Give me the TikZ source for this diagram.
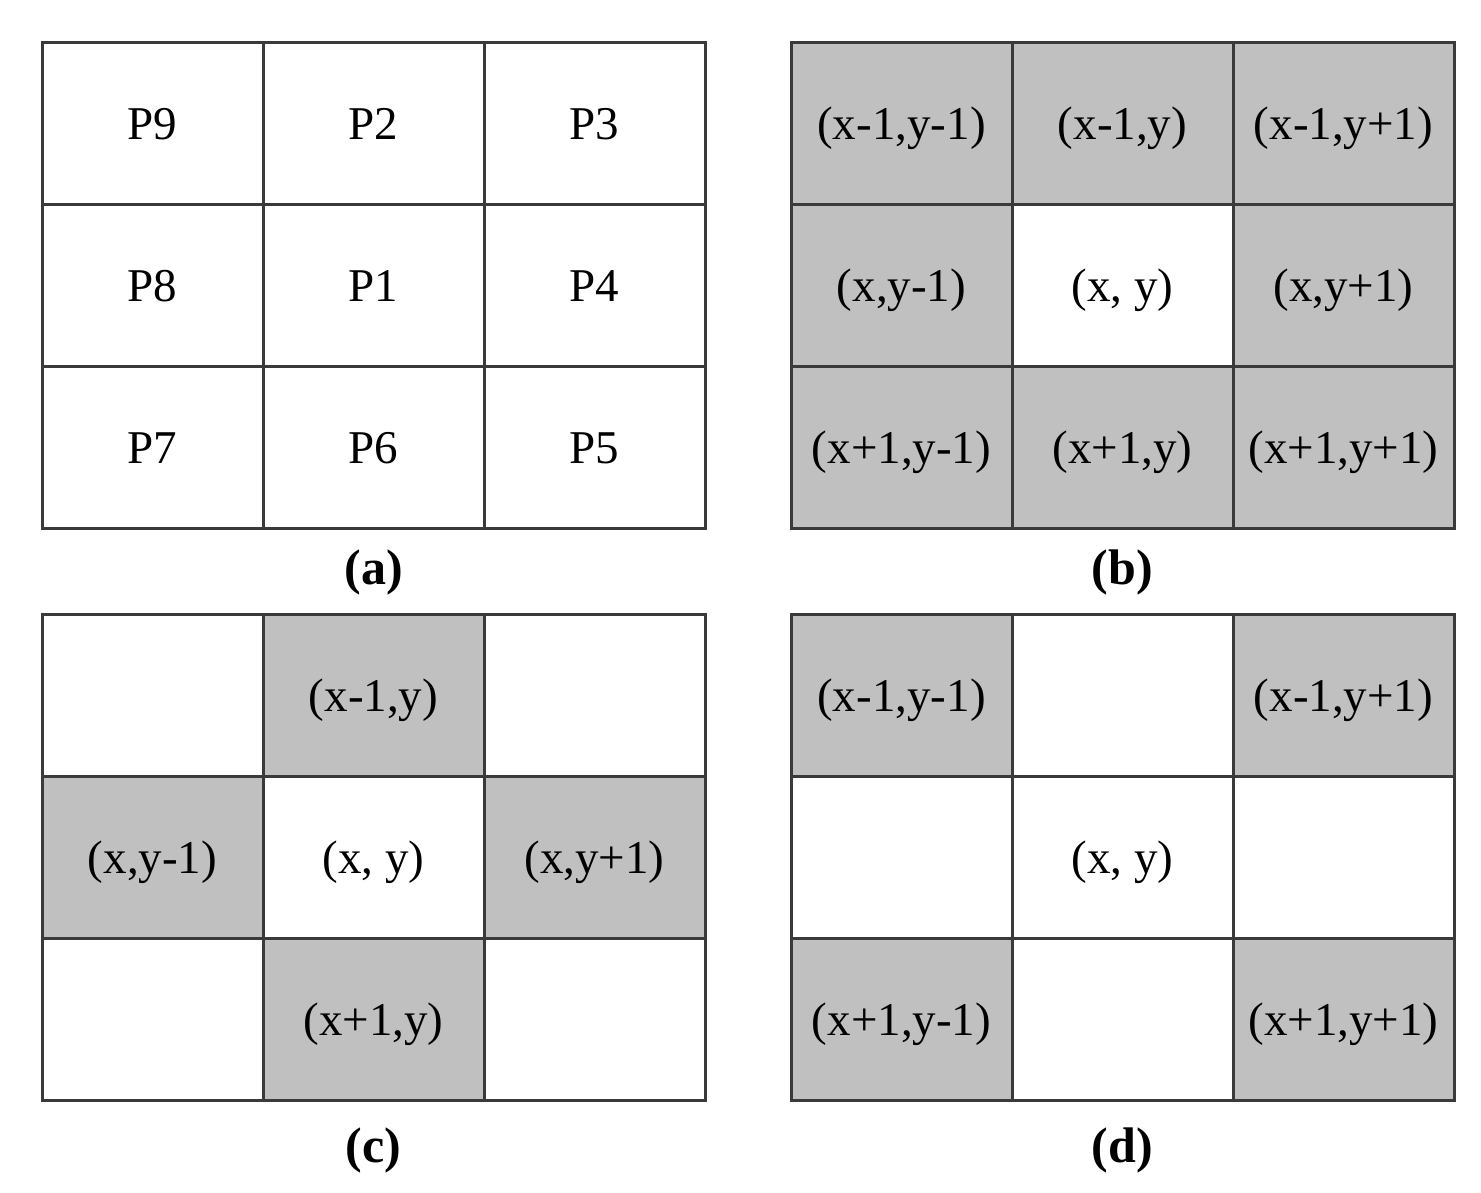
\documentclass[tikz,border=0pt]{standalone}
\usepackage{fontspec}
\setmainfont{Liberation Serif}
\definecolor{cellgray}{HTML}{C0C0C0}
\definecolor{gridline}{HTML}{3A3A3A}
\tikzset{
  cell/.style={draw=gridline, line width=3pt, inner sep=0pt,
    minimum width=221pt, minimum height=162pt,
    text height=36pt, text depth=4pt,
    font=\fontsize{47}{56}\selectfont},
  gray/.style={cell, fill=cellgray},
  blank/.style={cell, fill=white},
  caption/.style={font=\fontsize{50}{60}\selectfont\bfseries}
}
\begin{document}
\begin{tikzpicture}[x=1pt,y=-1pt]
\useasboundingbox (0,0) rectangle (1481,1192);
% (a)
\node[blank] (a11) at (152.5,123) {P9};
\node[blank] (a12) at (373.5,123) {P2};
\node[blank] (a13) at (594.5,123) {P3};
\node[blank] (a21) at (152.5,285) {P8};
\node[blank] (a22) at (373.5,285) {P1};
\node[blank] (a23) at (594.5,285) {P4};
\node[blank] (a31) at (152.5,447) {P7};
\node[blank] (a32) at (373.5,447) {P6};
\node[blank] (a33) at (594.5,447) {P5};
\node[caption] (capa) at (373.5,572) {(a)};
% (b)
\node[gray]  (b11) at (901.5,123) {(x-1,y-1)};
\node[gray]  (b12) at (1122.5,123) {(x-1,y)};
\node[gray]  (b13) at (1343.5,123) {(x-1,y+1)};
\node[gray]  (b21) at (901.5,285) {(x,y-1)};
\node[blank] (b22) at (1122.5,285) {(x, y)};
\node[gray]  (b23) at (1343.5,285) {(x,y+1)};
\node[gray]  (b31) at (901.5,447) {(x+1,y-1)};
\node[gray]  (b32) at (1122.5,447) {(x+1,y)};
\node[gray]  (b33) at (1343.5,447) {(x+1,y+1)};
\node[caption] (capb) at (1122.5,572) {(b)};
% (c)
\node[blank] (c11) at (152.5,695) {};
\node[gray]  (c12) at (373.5,695) {(x-1,y)};
\node[blank] (c13) at (594.5,695) {};
\node[gray]  (c21) at (152.5,857) {(x,y-1)};
\node[blank] (c22) at (373.5,857) {(x, y)};
\node[gray]  (c23) at (594.5,857) {(x,y+1)};
\node[blank] (c31) at (152.5,1019) {};
\node[gray]  (c32) at (373.5,1019) {(x+1,y)};
\node[blank] (c33) at (594.5,1019) {};
\node[caption] (capc) at (373.5,1150) {(c)};
% (d)
\node[gray]  (d11) at (901.5,695) {(x-1,y-1)};
\node[blank] (d12) at (1122.5,695) {};
\node[gray]  (d13) at (1343.5,695) {(x-1,y+1)};
\node[blank] (d21) at (901.5,857) {};
\node[blank] (d22) at (1122.5,857) {(x, y)};
\node[blank] (d23) at (1343.5,857) {};
\node[gray]  (d31) at (901.5,1019) {(x+1,y-1)};
\node[blank] (d32) at (1122.5,1019) {};
\node[gray]  (d33) at (1343.5,1019) {(x+1,y+1)};
\node[caption] (capd) at (1122.5,1150) {(d)};
\end{tikzpicture}
\end{document}
